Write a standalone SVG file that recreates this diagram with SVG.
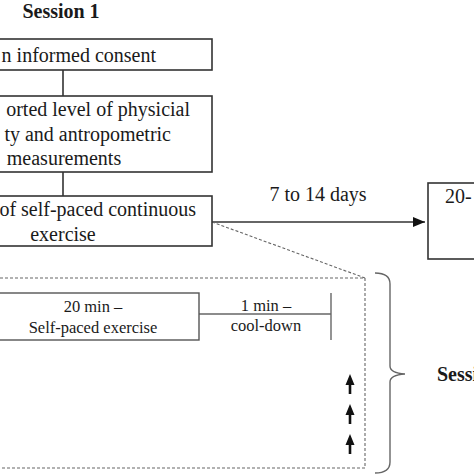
<svg xmlns="http://www.w3.org/2000/svg" width="474" height="474" viewBox="0 0 474 474">
<style>
.t{font-size:20px}
.s{font-size:16.5px}
.b{font-size:20px;font-weight:bold}
.box{fill:#fff;stroke:#333;stroke-width:1.6}
.ln{fill:none;stroke:#333;stroke-width:1.6}
.gl{fill:none;stroke:#666;stroke-width:1.4}
.dash{fill:none;stroke:#666;stroke-width:1.1;stroke-dasharray:3 2}
</style>
<defs>
<marker id="ah" markerWidth="12" markerHeight="10" refX="12" refY="5" orient="auto" markerUnits="userSpaceOnUse">
<path d="M0,0 L12,5 L0,10 Z" fill="#111"/>
</marker>
<path id="up" d="M0,0 L4.5,11 L1.3,11 L1.3,20 L-1.3,20 L-1.3,11 L-4.5,11 Z" fill="#111"/>
</defs>
<rect width="474" height="474" fill="#fff"/>
<g font-family="'Liberation Serif', 'Times New Roman', serif" fill="#1a1a1a">
<text class="b" x="61" y="18" text-anchor="middle">Session 1</text>
<g id="connectors">
<line class="ln" x1="63" y1="70" x2="63" y2="96"/>
<line class="ln" x1="63" y1="172" x2="63" y2="196"/>
<line class="ln" x1="212" y1="222" x2="425" y2="222" marker-end="url(#ah)"/>
<line class="dash" x1="212" y1="222" x2="365" y2="278"/>
<line class="gl" x1="199" y1="314" x2="331" y2="314"/>
<line class="gl" x1="331" y1="293" x2="331" y2="340"/>
</g>
<g id="consent">
<rect class="box" x="-84" y="39" width="296" height="31"/>
<text class="t" x="156" y="62" text-anchor="end">n informed consent</text>
</g>
<g id="measures">
<rect class="box" x="-84" y="96" width="296" height="76"/>
<text class="t" x="190" y="116" text-anchor="end">orted level of physicial</text>
<text class="t" x="171" y="141" text-anchor="end">ty and antropometric</text>
<text class="t" x="64" y="165" text-anchor="middle">measurements</text>
</g>
<g id="session1ex">
<rect class="box" x="-84" y="196" width="296" height="50"/>
<text class="t" x="196" y="216" text-anchor="end">of self-paced continuous</text>
<text class="t" x="63" y="241" text-anchor="middle">exercise</text>
</g>
<text class="t" x="318" y="201" text-anchor="middle">7 to 14 days</text>
<g id="session2box">
<rect class="box" x="428" y="183" width="60" height="76"/>
<text class="t" x="445" y="203">20-</text>
</g>
<g id="detail">
<rect class="dash" x="-10" y="278" width="375" height="190"/>
<rect class="box" x="-13" y="293" width="212" height="47" style="stroke:#555;stroke-width:1.4"/>
<text class="s" x="93" y="312" text-anchor="middle">20 min –</text>
<text class="s" x="93" y="333" text-anchor="middle">Self-paced exercise</text>
<text class="s" x="266" y="311" text-anchor="middle">1 min –</text>
<text class="s" x="266" y="331" text-anchor="middle">cool-down</text>
<use href="#up" x="350" y="374"/>
<use href="#up" x="350" y="404"/>
<use href="#up" x="350" y="434"/>
</g>
<g id="brace">
<path class="gl" d="M375,273 Q390,273 390,284 L390,366 Q390,373 405,374 Q390,375 390,382 L390,462 Q390,473 375,473"/>
<text class="b" x="437" y="381">Session 2</text>
</g>
</g>
</svg>
